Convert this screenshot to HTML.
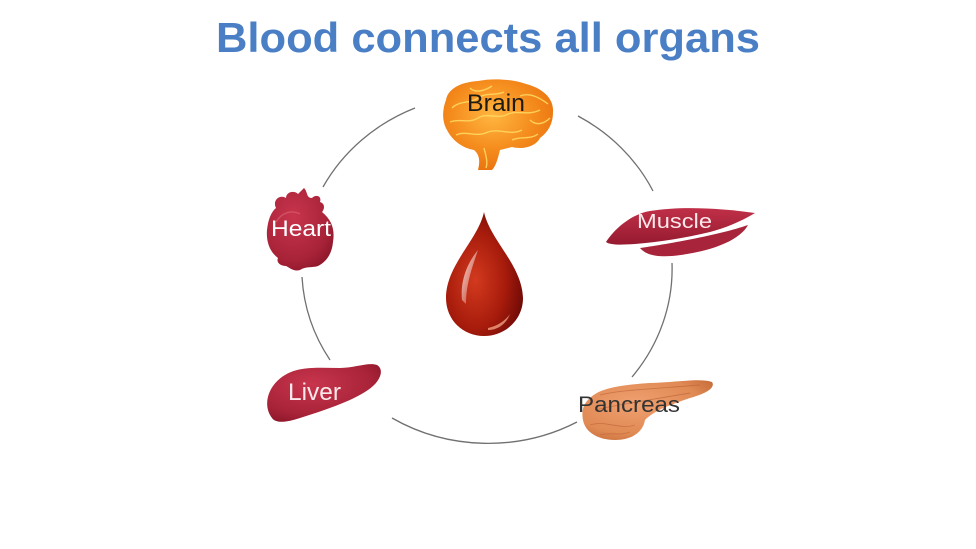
<!DOCTYPE html>
<html>
<head>
<meta charset="utf-8">
<style>
  html, body { margin:0; padding:0; background:#fff; }
  body { width:976px; height:549px; overflow:hidden; }
  svg { display:block; }
  text { font-family: "Liberation Sans", "DejaVu Sans", sans-serif; }
</style>
</head>
<body>
<svg width="976" height="549" viewBox="0 0 976 549" xmlns="http://www.w3.org/2000/svg">
  <defs>
    <radialGradient id="brainG" cx="0.45" cy="0.4" r="0.65">
      <stop offset="0" stop-color="#ffb640"/>
      <stop offset="0.6" stop-color="#f48a1c"/>
      <stop offset="1" stop-color="#e8700e"/>
    </radialGradient>
    <radialGradient id="redG" cx="0.4" cy="0.35" r="0.75">
      <stop offset="0" stop-color="#c8354d"/>
      <stop offset="0.7" stop-color="#a82338"/>
      <stop offset="1" stop-color="#8a1528"/>
    </radialGradient>
    <linearGradient id="muscleG" x1="0" y1="0" x2="0" y2="1">
      <stop offset="0" stop-color="#c03048"/>
      <stop offset="1" stop-color="#961a30"/>
    </linearGradient>
    <radialGradient id="pancG" cx="0.4" cy="0.4" r="0.7">
      <stop offset="0" stop-color="#f0a070"/>
      <stop offset="0.7" stop-color="#e08a55"/>
      <stop offset="1" stop-color="#c86e3a"/>
    </radialGradient>
    <radialGradient id="dropG" cx="0.38" cy="0.55" r="0.7">
      <stop offset="0" stop-color="#d23a1e"/>
      <stop offset="0.55" stop-color="#a81c0c"/>
      <stop offset="1" stop-color="#640606"/>
    </radialGradient>
    <linearGradient id="hl" x1="0" y1="0" x2="1" y2="1">
      <stop offset="0" stop-color="#ffffff" stop-opacity="0.85"/>
      <stop offset="1" stop-color="#ffffff" stop-opacity="0"/>
    </linearGradient>
  </defs>

  <!-- Title -->
  <text x="216" y="52" font-size="42" font-weight="bold" fill="#4a7fc6" textLength="544" lengthAdjust="spacingAndGlyphs">Blood connects all organs</text>

  <!-- Circle arcs -->
  <g fill="none" stroke="#707070" stroke-width="1.3">
    <path d="M415,108 A185,174 0 0 0 323,187"/>
    <path d="M578,116 A185,174 0 0 1 653,191"/>
    <path d="M302,277 A185,174 0 0 0 330,360"/>
    <path d="M672,263 A185,174 0 0 1 632,377"/>
    <path d="M392,418 A185,174 0 0 0 577,422"/>
  </g>

  <!-- Brain -->
  <path d="M446,100 C448,88 462,82 478,81 C492,78 512,79 526,84 C542,88 554,98 553,112 C553,124 548,132 540,138 C536,146 524,150 512,147 L500,150 C498,158 496,166 492,170 L478,170 C480,162 480,155 474,150 C462,148 452,140 447,130 C442,122 442,110 446,100 Z" fill="url(#brainG)"/>
  <g fill="none" stroke="#ffd860" stroke-width="1.4" opacity="0.9">
    <path d="M452,108 C460,100 470,104 478,98 C486,92 496,96 504,92"/>
    <path d="M450,122 C460,118 468,124 478,118 C488,112 498,120 508,114 C518,110 528,116 540,110"/>
    <path d="M456,135 C466,130 476,138 488,132 C500,128 510,136 522,130"/>
    <path d="M520,96 C530,92 540,98 548,104"/>
    <path d="M470,88 C476,94 486,90 492,86"/>
    <path d="M512,140 C520,136 530,140 538,134"/>
    <path d="M484,148 C486,156 488,162 486,168"/>
    <path d="M530,120 C536,126 544,124 550,118"/>
  </g>
  <text x="467" y="111" font-size="24" fill="#1e1a14" textLength="58" lengthAdjust="spacingAndGlyphs">Brain</text>

  <!-- Heart -->
  <path d="M276,208 C272,200 280,194 286,198 C286,192 294,190 298,194 L304,188 C308,192 306,198 312,198 C316,194 322,196 320,202 C326,204 324,210 322,212 C332,220 335,230 333,242 C332,254 326,262 318,266 C312,268 306,266 300,270 C294,272 290,268 286,266 C280,266 276,262 278,258 C270,252 266,242 267,230 C268,220 271,212 276,208 Z" fill="url(#redG)"/>
  <path d="M276,222 C282,212 292,210 300,214" fill="none" stroke="#e06070" stroke-width="1.5" opacity="0.6"/>
  <text x="271" y="236" font-size="22" fill="#ffffff" textLength="60" lengthAdjust="spacingAndGlyphs">Heart</text>

  <!-- Muscle -->
  <path d="M606,242 C615,228 632,214 650,211 C680,206 720,208 755,213 C740,222 725,228 710,232 C685,238 660,242 635,244 C620,245 610,245 606,242 Z" fill="url(#muscleG)"/>
  <path d="M640,248 C662,245 720,235 748,225 C740,240 712,252 672,256 C656,257 646,255 640,248 Z" fill="#a8243a"/>
  <path d="M636,245.5 C670,242.5 720,233 752,222" fill="none" stroke="#ffffff" stroke-width="1.3"/>
  <text x="637" y="228" font-size="20" fill="#fbe8ea" textLength="75" lengthAdjust="spacingAndGlyphs">Muscle</text>

  <!-- Liver -->
  <path d="M272,418 C262,405 268,385 285,375 C300,366 320,368 340,368 C355,368 368,362 377,365 C385,370 380,382 368,390 C350,402 325,410 300,418 C288,422 276,424 272,418 Z" fill="url(#redG)"/>
  <text x="288" y="400" font-size="24" fill="#fbe8ea" textLength="53" lengthAdjust="spacingAndGlyphs">Liver</text>

  <!-- Pancreas -->
  <path d="M590,398 C600,388 620,385 650,383 C680,382 700,378 712,382 C716,388 705,394 690,398 C670,405 655,410 645,420 C643,432 632,440 615,440 C598,440 585,432 583,420 C581,410 584,403 590,398 Z" fill="url(#pancG)"/>
  <g fill="none" stroke="#c0683a" stroke-width="0.9" opacity="0.7">
    <path d="M600,395 C620,390 650,389 700,385"/>
    <path d="M595,410 C620,404 650,400 690,393"/>
    <path d="M590,425 C605,420 620,430 635,425"/>
    <path d="M600,435 C610,432 620,436 630,432"/>
  </g>
  <text x="578" y="412" font-size="22" fill="#333333" textLength="102" lengthAdjust="spacingAndGlyphs">Pancreas</text>

  <!-- Blood drop -->
  <path d="M484,212 C490,240 522,265 523,298 C523,320 505,336 484,336 C463,336 446,320 446,298 C446,265 478,240 484,212 Z" fill="url(#dropG)"/>
  <path d="M462,300 C460,280 468,262 478,250 C472,268 466,284 466,304 Z" fill="url(#hl)"/>
  <path d="M488,328 C498,326 506,320 510,314 C506,324 498,330 488,330 Z" fill="#f0a080" opacity="0.8"/>
</svg>
</body>
</html>
